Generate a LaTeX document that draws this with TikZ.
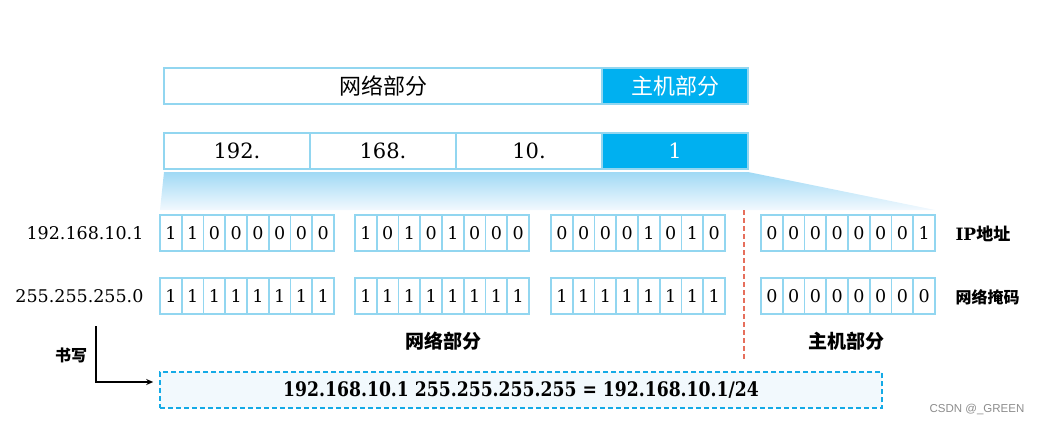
\documentclass[tikz,border=0pt]{standalone}
\usepackage{fontspec}
\setmainfont{DejaVu Serif}
\newfontfamily\cjk{Noto Sans CJK SC}
\newfontfamily\condserif{DejaVu Serif}[FakeStretch=0.86]
\newfontfamily\wmfont{Liberation Sans}
\usetikzlibrary{arrows.meta}
\definecolor{cellblue}{RGB}{146,214,240}
\definecolor{hostblue}{RGB}{0,176,240}
\definecolor{dashblue}{RGB}{20,170,230}
\definecolor{sumfill}{RGB}{242,249,253}
\definecolor{redline}{RGB}{230,111,92}
\definecolor{gradtop}{RGB}{160,217,245}
\definecolor{gradbot}{RGB}{242,249,254}
\begin{document}
\begin{tikzpicture}[x=1pt,y=-1pt,
  cell/.style={draw=cellblue, line width=1.6pt, inner sep=0pt, minimum height=36pt, anchor=center},
  wide/.style={cell, minimum width=146pt},
  bit/.style={cell, minimum width=21.75pt, font=\fontsize{17.5}{20}\selectfont},
  hostcell/.style={fill=hostblue, text=white},
  biglab/.style={font=\fontsize{17.5}{20}\selectfont},
  boldlab/.style={font=\fontsize{17}{20}\selectfont\bfseries},
  grouplab/.style={font=\cjk\fontsize{19}{22}\selectfont\bfseries}]
\useasboundingbox (0,0) rectangle (1050,424);

% top bar
\node[cell, minimum width=438pt, font=\cjk\fontsize{22}{26}\selectfont] (net) at (383,86) {网络部分};
\node[wide, hostcell, font=\cjk\fontsize{22}{26}\selectfont] (host) at (675,86) {主机部分};

% gradient band
\shade[top color=gradtop, bottom color=gradbot] (164,172) -- (748,172) -- (935,210) -- (160,210) -- cycle;

% octets
\node[wide, font=\fontsize{21}{24}\selectfont] (o1) at (237,151) {192.};
\node[wide, font=\fontsize{21}{24}\selectfont] (o2) at (383,151) {168.};
\node[wide, font=\fontsize{21}{24}\selectfont] (o3) at (529,151) {10.};
\node[wide, hostcell, font=\fontsize{21}{24}\selectfont] (o4) at (675,151) {1};

% bits
\foreach \g/\gx/\ba/\bb in {1/160/{1,1,0,0,0,0,0,0}/{1,1,1,1,1,1,1,1},
                            2/355/{1,0,1,0,1,0,0,0}/{1,1,1,1,1,1,1,1},
                            3/551/{0,0,0,0,1,0,1,0}/{1,1,1,1,1,1,1,1},
                            4/761/{0,0,0,0,0,0,0,1}/{0,0,0,0,0,0,0,0}}{
  \foreach \b [count=\i] in \ba {
    \node[bit] (a\g-\i) at ({\gx+(\i-0.5)*21.75},233) {\b};
  }
  \foreach \b [count=\i] in \bb {
    \node[bit] (m\g-\i) at ({\gx+(\i-0.5)*21.75},296) {\b};
  }
}

% row labels
\node[biglab, anchor=east] (ipl) at (147,233) {192.168.10.1};
\node[biglab, anchor=east] (mkl) at (147,296) {255.255.255.0};
\node[boldlab, anchor=west] (ipr) at (952,234) {IP{\cjk 地址}};
\node[grouplab, anchor=west, font=\cjk\fontsize{16}{18}\selectfont\bfseries] (mkr) at (952,297) {网络掩码};

% divider
\coordinate (rtop) at (744,210);
\coordinate (rbot) at (744,360);
\draw[redline, line width=1.4pt, dash pattern=on 5pt off 3pt] (rtop) -- (rbot);

% group labels
\node[grouplab] (netlab) at (443,341) {网络部分};
\node[grouplab] (hostlab) at (846,341) {主机部分};

% summary
\node[draw=dashblue, line width=1.6pt, dash pattern=on 5pt off 3pt, fill=sumfill,
      minimum width=722pt, minimum height=36pt, inner sep=0pt,
      font=\condserif\fontsize{20}{22}\selectfont\bfseries] (sum) at (521,390)
      {192.168.10.1 255.255.255.255 = 192.168.10.1/24};

% write arrow
\node[font=\cjk\fontsize{16}{18}\selectfont\bfseries] (write) at (71,355) {书写};
\coordinate (wtop) at (96,326);
\draw[line width=1.2pt, -{Stealth[length=7pt,width=6pt]}, shorten >=6pt] (wtop) |- ([yshift=8pt]sum.west);

% watermark
\node[font=\wmfont\fontsize{11.5}{13}\selectfont, text=black!45] (wm) at (977,409) {CSDN @\_GREEN};
\end{tikzpicture}
\end{document}
